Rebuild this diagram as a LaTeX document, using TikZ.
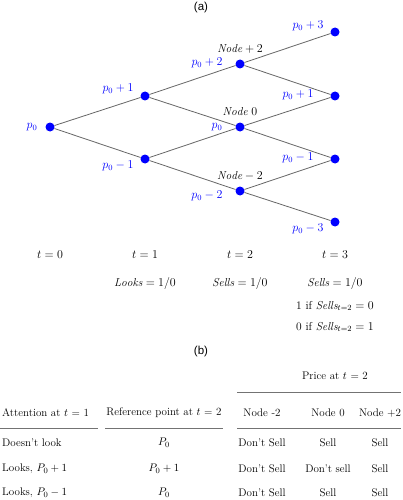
\documentclass[tikz,border=0pt]{standalone}
\usepackage{fontspec}
\newfontfamily\labfont{Liberation Sans}
\begin{document}
\begin{tikzpicture}[x=1pt,y=-1pt,
  dot/.style={circle,fill={rgb,255:red,0;green,0;blue,255},draw=none,minimum size=9pt,inner sep=0pt},
  edge/.style={draw=black!60,line width=0.8pt},
  plab/.style={text={rgb,255:red,0;green,0;blue,255},inner sep=0pt,font=\fontsize{11.5}{13}\selectfont},
  nlab/.style={inner sep=0pt,font=\fontsize{11.5}{13}\selectfont},
  txt/.style={inner sep=0pt,font=\fontsize{11.5}{13}\selectfont},
  tcell/.style={inner sep=0pt,font=\fontsize{11}{13}\selectfont},
  rule/.style={draw=black!55,line width=0.9pt}]
\useasboundingbox (0,0) rectangle (403,500);
\node[inner sep=0pt,font=\labfont\fontsize{11.5}{13}\selectfont] (la) at (201,8) {(a)};
% tree nodes
\node[dot] (r) at (50,127) {};
\node[dot] (u1) at (145,96) {};
\node[dot] (d1) at (145,159) {};
\node[dot] (u2) at (240,64) {};
\node[dot] (m2) at (240,127) {};
\node[dot] (d2) at (240,191) {};
\node[dot] (a3) at (335,32) {};
\node[dot] (b3) at (335,96) {};
\node[dot] (c3) at (335,159) {};
\node[dot] (e3) at (335,222) {};
\draw[edge] (r) -- (u1);
\draw[edge] (r) -- (d1);
\draw[edge] (u1) -- (u2);
\draw[edge] (u1) -- (m2);
\draw[edge] (d1) -- (m2);
\draw[edge] (d1) -- (d2);
\draw[edge] (u2) -- (a3);
\draw[edge] (u2) -- (b3);
\draw[edge] (m2) -- (b3);
\draw[edge] (m2) -- (c3);
\draw[edge] (d2) -- (c3);
\draw[edge] (d2) -- (e3);
% labels
\node[plab] (l0) at (32,127) {$p_0$};
\node[plab] (l1) at (118,89) {$p_0+1$};
\node[plab] (l2) at (118,166) {$p_0-1$};
\node[plab] (l3) at (207,63) {$p_0+2$};
\node[plab] (l4) at (217,127) {$p_0$};
\node[plab] (l5) at (207,196) {$p_0-2$};
\node[plab] (l6) at (308,26) {$p_0+3$};
\node[plab] (l7) at (298,95) {$p_0+1$};
\node[plab] (l8) at (298,158) {$p_0-1$};
\node[plab] (l9) at (308,229) {$p_0-3$};
\node[nlab] (n1) at (240,49) {$\mathit{Node}+2$};
\node[nlab] (n2) at (240,112) {$\mathit{Node}\ 0$};
\node[nlab] (n3) at (240,176) {$\mathit{Node}-2$};
% time row
\node[txt] (t0) at (50,255) {$t=0$};
\node[txt] (t1) at (145,255) {$t=1$};
\node[txt] (t2) at (240,255) {$t=2$};
\node[txt] (t3) at (335,255) {$t=3$};
\node[txt] (s1) at (145,283) {$\mathit{Looks}=1/0$};
\node[txt] (s2) at (240,283) {$\mathit{Sells}=1/0$};
\node[txt] (s3) at (335,283) {$\mathit{Sells}=1/0$};
\node[txt] (s4) at (335,306) {1 if $\mathit{Sells}_{t=2}=0$};
\node[txt] (s5) at (335,327) {0 if $\mathit{Sells}_{t=2}=1$};
\node[inner sep=0pt,font=\labfont\fontsize{11.5}{13}\selectfont] (lb) at (201,352) {(b)};
% table
\node[tcell] (ph) at (335,376) {Price at $t$ = 2};
\coordinate (pr1) at (237,392);
\coordinate (pr2) at (401,392);
\draw[rule] (pr1) -- (pr2);
\node[tcell,anchor=west] (h1) at (2,413) {Attention at $t$ = 1};
\node[tcell] (h2) at (164,413) {Reference point at $t$ = 2};
\node[tcell] (h3) at (262,413) {Node -2};
\node[tcell] (h4) at (328,413) {Node 0};
\node[tcell] (h5) at (380,413) {Node +2};
\coordinate (ra1) at (0,428);
\coordinate (ra2) at (98,428);
\coordinate (rb1) at (105,428);
\coordinate (rb2) at (223,428);
\coordinate (rc1) at (237,428);
\coordinate (rc2) at (401,428);
\draw[rule] (ra1) -- (ra2);
\draw[rule] (rb1) -- (rb2);
\draw[rule] (rc1) -- (rc2);
\node[tcell,anchor=west] (c11) at (2,443) {Doesn't look};
\node[tcell] (c12) at (164,443) {$P_0$};
\node[tcell] (c13) at (262,443) {Don't Sell};
\node[tcell] (c14) at (328,443) {Sell};
\node[tcell] (c15) at (380,443) {Sell};
\node[tcell,anchor=west] (c21) at (2,469) {Looks, $P_0+1$};
\node[tcell] (c22) at (164,469) {$P_0+1$};
\node[tcell] (c23) at (262,469) {Don't Sell};
\node[tcell] (c24) at (328,469) {Don't sell};
\node[tcell] (c25) at (380,469) {Sell};
\node[tcell,anchor=west] (c31) at (2,493) {Looks, $P_0-1$};
\node[tcell] (c32) at (164,493) {$P_0$};
\node[tcell] (c33) at (262,493) {Don't Sell};
\node[tcell] (c34) at (328,493) {Sell};
\node[tcell] (c35) at (380,493) {Sell};
\end{tikzpicture}
\end{document}
